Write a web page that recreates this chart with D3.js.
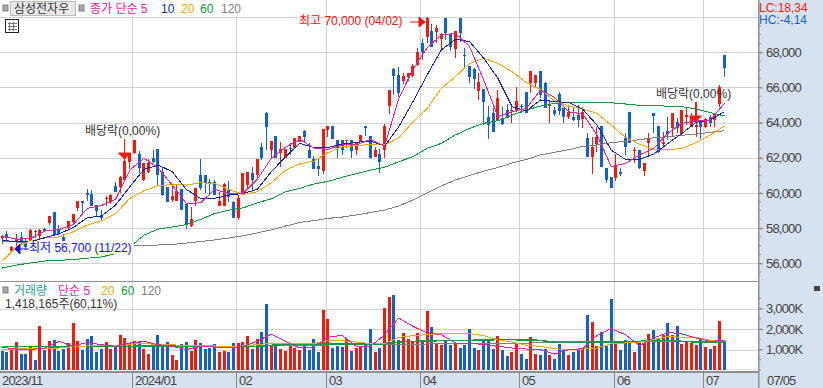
<!DOCTYPE html>
<html lang="ko">
<head>
    <meta charset="UTF-8">
    <title>삼성전자우</title>
    <script src="https://cdn.jsdelivr.net/npm/d3@7"></script>
    <style>
        html, body { margin: 0; padding: 0; background: #fff; overflow: hidden; }
        text { font-family: "Liberation Sans", "Noto Sans CJK KR", sans-serif; font-size: 12px; }
        .axis text { fill: #444; font-family: "Liberation Sans", sans-serif; font-size: 13px; letter-spacing: -.8px; }
    </style>
</head>
<body>
<script>
    // daily candles, 2023/11/21 .. 2024/07/05
    const opens = [57440,57690,56720,57250,57500,57200,57220,57820,57540,57960,58300,58910,57970,57500,58030,58360,59120,59530,60010,59930,59310,58770,59650,59500,60390,60350,60730,61780,62250,62190,60730,61210,61970,62500,61210,60350,59590,59550,60200,59360,58130,59550,61020,61020,60640,60640,59250,59250,60160,59460,58550,59880,60450,61110,61020,62590,64530,62440,
        63240,62290,62010,62540,62540,62920,63520,62440,61910,61530,61250,63580,63810,63010,63010,62950,63010,62440,62920,63810,63240,62060,62210,62440,64960,67050,66710,66370,66580,66650,67280,68510,68890,69210,69170,68760,69970,69040,68170,69970,67850,67220,67030,65820,65910,64340,64570,64150,64240,64720,64680,64660,64940,65720,66230,66230,66940,66230,
        64940,64720,65610,64810,64300,64340,64430,64190,63140,62060,62780,63810,61420,60890,60870,61210,63140,64600,62390,62440,61250,62820,64530,63810,62780,63540,63670,64050,63350,64300,63770,63730,64110,63770,64340,64150,65060,67850];
    const highs = [57600,57820,57000,57690,57790,57400,57970,57880,57970,58010,58680,58910,58200,57650,58410,58790,59530,59550,60200,60160,59310,59020,59820,59930,60640,60960,62000,62290,63010,62400,61720,61910,62440,62500,61400,60350,60450,60450,60200,59360,59210,60310,61910,61020,60770,60730,60060,60540,60690,59550,59880,61110,61210,61490,61930,62860,64590,62970,
        63240,62880,62500,62820,63110,63240,63580,62820,62100,61970,63640,63810,63810,63010,63010,63010,63010,62820,63300,63810,63240,62590,62480,63920,65860,67090,67180,66800,66840,67320,68260,68740,70000,69610,69550,69080,69970,69120,69210,69970,68220,67220,67090,66800,65910,64940,64850,65850,64870,65040,64940,66010,65060,65720,66940,66710,66940,66330,
        65290,64910,65720,64810,64940,64910,65000,64870,63390,63200,63770,63810,61420,60890,62210,61400,63390,64600,62590,62440,61680,63390,64530,63810,63490,64300,64530,64240,64720,64910,64530,65150,64110,64240,64430,64530,66140,67850];
    const lows = [57120,57310,56700,56930,57030,56750,57030,57460,57310,57790,58170,57540,57650,57220,57880,58320,58960,58830,59550,59250,58680,58490,59250,59360,60070,59970,60690,61340,62210,61150,60690,61110,61680,60480,59840,59460,59500,59530,59020,57940,58070,59250,60160,59970,59880,59880,59250,59250,59500,58550,58450,59880,60200,60160,60730,61870,62440,61970,
        62010,61490,61970,62160,62540,62920,62860,61970,61360,60960,61080,63160,63070,62010,62160,62540,62010,62160,62920,63240,62010,62060,61150,62010,64490,65570,65480,66200,66390,66570,67220,67560,68510,68280,68550,68090,68700,68090,67690,68610,67030,66230,65890,65290,63860,63070,63450,64110,63860,64240,63990,64620,64570,64530,65670,65950,65380,64810,
        63990,64380,64430,63990,64190,64110,63730,63680,62060,61080,62350,61500,60580,60300,60700,60960,62160,62820,61680,61360,60980,62160,63390,62290,62540,63010,63200,63390,63300,63860,63730,63200,63070,63680,63770,63770,64910,66570];
    const closes = [57540,57440,56930,57310,57160,56930,57880,57770,57880,57820,58680,57600,57690,57270,58410,58790,59530,59440,59910,59270,58960,58600,59690,59910,60070,60920,61810,62290,63010,61400,61720,61720,61740,61020,59880,59500,59820,60100,59020,58170,58510,60310,60310,60580,60540,59880,59530,60500,59780,58600,59690,61110,61170,60730,61930,61970,63770,62970,
        62010,62520,62500,62480,63110,63240,63160,61970,61360,61360,63640,63810,63070,62570,62440,63010,62400,62820,63300,63690,62010,62440,61780,63810,65860,66670,65700,66670,66800,67240,68040,67990,69970,68320,69360,69020,69080,68320,69210,69080,67790,66575,66480,66330,65150,63860,63450,65380,63900,64280,64720,65230,64910,64570,66940,66710,65570,64810,
        65000,64470,64680,64300,64620,64150,64150,64620,62060,62630,63160,61500,60730,60300,61530,61080,62590,62820,62440,61400,61680,63140,64400,62350,62920,63350,64530,63670,64720,64430,64300,63860,63730,64190,63960,64530,66050,67090];

    const volumes = [927,878,1024,1366,780,780,1106,488,2146,992,1431,1480,943,1024,1317,2293,1398,992,1512,1659,878,1041,1366,1024,1106,1707,1561,1317,1398,1398,1024,780,1236,1707,1236,1366,732,488,1268,1366,943,1463,1317,1024,1073,1268,878,927,878,1317,1317,1366,1659,1024,1512,1854,3219,1187,
        1187,1024,927,1187,1073,992,1187,992,1512,878,2927,2488,1073,1187,1122,1512,927,1073,1122,1236,2000,878,1073,3024,3561,3658,1463,1805,1512,1398,1805,1415,2878,2098,1268,1220,1463,1220,1268,1073,1220,2000,1073,976,1512,1463,1024,1659,976,683,878,1317,780,537,1610,780,732,1024,
        732,537,1268,976,732,878,976,1073,2683,2341,1171,1854,1171,3463,1317,976,1463,1366,878,1317,1317,1756,1951,1561,1707,2293,1707,2146,1268,1366,1317,1220,1561,1122,1024,1171,2390,1418];
    const volumeDirs = "bbrrbbrbrbrbbbrrrbbbbbrrbrrrrbrrbbbbrrbbrrbbbbrrbbrrrbrbbr" +
        "brrrrrbbbbrrbbbrbrrbbrbrrbbrrrrbrbrrbbrbbbbrbbbrbbrrbbrrbb" +
        "rbbbrbbrbrrbbbrbbbrbrrbbrbrbrrrrbrbrrb";

    // moving averages, read every third day
    const maDays = d3.range(0, 154, 3);
    const ma5 = [57540,57370,57410,57840,57920,58200,59120,59290,59630,61300,61970,61430,60450,59400,59440,60200,59970,59970,60770,61970,62600,63050,62560,62480,62730,62730,63050,62670,65380,67030,68260,68980,69080,68320,66420,64340,64620,64810,65850,65440,64620,64490,63300,61500,61680,62160,62540,63390,63960,64110,64150,65100];
    const ma10 = [57310,57220,57220,57460,57670,58030,58600,58680,59310,60350,61340,61590,61210,60200,59690,59690,59880,59970,60200,61210,62060,62820,62590,62590,62780,62880,62950,62670,63770,65190,66710,68130,68740,68610,67660,66520,64910,64660,65290,65190,65150,64750,63860,62440,61910,61910,62210,62820,63390,64020,64150,64620];
    const ma20 = [56130,56930,57270,57440,57500,57790,58170,58410,58830,59690,60120,60410,60480,60450,60580,60540,60200,59910,60070,60580,61300,61650,61820,62290,62630,62690,62770,62730,63140,64050,64810,65950,66610,67370,67660,67370,66900,66270,65890,65230,64940,64770,64530,63860,63160,62780,62480,62440,62540,62860,63300,63810];
    const ma60 = [55730,55900,56020,56130,56170,56210,56290,56360,56550,56930,57600,57940,58070,58200,58490,58830,59020,59150,59440,59670,60070,60260,60510,60660,60890,61100,61300,61460,61780,62060,62540,62820,63300,63670,63960,64110,64430,64720,64940,65100,65150,65150,65150,65130,65060,64980,64960,64940,64910,64770,64570,64380];
    const ma120 = [57230,57210,57180,57150,57130,57100,57070,57040,57010,57000,57010,57040,57070,57150,57240,57330,57440,57560,57730,57900,58120,58320,58430,58550,58630,58750,58890,59030,59260,59600,60000,60400,60740,60990,61250,61450,61700,61900,62160,62310,62460,62650,62730,62860,62940,63030,63140,63200,63280,63350,63450,63540];

    const volMa5 = [1106,1024,992,1073,1398,1154,1350,1236,1154,1317,1398,1236,1154,992,1154,1122,1073,1154,1398,1756,1398,1073,1122,1593,1691,1154,1154,1724,2537,2130,1805,1724,1317,1317,1236,1154,1073,1024,992,780,992,1041,1691,2016,1724,1187,1561,1837,1756,1561,1398,1447];
    const volMa20 = [992,1024,1041,1057,1073,1138,1171,1171,1187,1252,1301,1236,1236,1171,1187,1171,1154,1171,1236,1317,1285,1285,1285,1431,1431,1366,1285,1285,1593,1675,1724,1789,1789,1772,1675,1463,1366,1203,1154,1041,992,1024,1073,1285,1317,1350,1480,1642,1593,1593,1447,1463];
    const volMa60 = [1154,1154,1154,1138,1122,1138,1154,1154,1154,1154,1171,1171,1171,1154,1154,1138,1138,1138,1154,1203,1252,1268,1268,1268,1268,1268,1268,1268,1366,1398,1415,1431,1431,1447,1463,1480,1480,1463,1447,1350,1333,1350,1366,1366,1366,1398,1447,1447,1398,1366,1350,1350];
    const volMa120 = [1122,1122,1122,1122,1122,1122,1122,1122,1122,1122,1122,1122,1122,1122,1122,1122,1122,1154,1170,1187,1203,1203,1203,1220,1220,1236,1236,1236,1252,1252,1268,1285,1285,1301,1301,1301,1301,1301,1350,1366,1366,1382,1382,1382,1382,1382,1382,1382,1382,1382,1382,1382];

    const monthTicks = [27.5, 49.5, 68.5, 88.5, 109.5, 129.5, 148.5];
    const monthLabels = ["2024/01", "02", "03", "04", "05", "06", "07"];
    const priceTicks = [56000, 58000, 60000, 62000, 64000, 66000, 68000];
    const priceGrid = [56000, 58000, 60000, 62000, 64000, 66000, 68000, 70000];
    const volumeTicks = [1000, 2000, 3000];

    const colors = {up: "#ee1c0c", down: "#1560c8", ma5: "#e020b0", ma10: "#1028a8", ma20: "#f0a808", ma60: "#109a40", ma120: "#808080"};
    const dim = {width: 823, height: 388, plotRight: 758, panelBottom: 371};

    const svg = d3.select("body").append("svg")
        .attr("width", dim.width)
        .attr("height", dim.height)
        .style("display", "block");

    const x = d3.scaleLinear().domain([0, 153]).range([2.3, 724.5]);
    const y = d3.scaleLinear().domain([56000, 68000]).range([263.3, 52.3]);
    const yVol = d3.scaleLinear().domain([0, 3000]).range([370, 308.5]);
    const barLeft = i => Math.round(x(i) - 1.6);

    drawFrame();
    drawGrid();
    drawVolume();
    drawCandles();
    drawAverages();
    drawNotes();
    drawLegends();
    drawAxes();

    function drawFrame() {
        svg.append("rect").attr("x", dim.plotRight).attr("y", 0)
            .attr("width", dim.width - dim.plotRight).attr("height", dim.height).attr("fill", "#d6e2f0");
        svg.append("rect").attr("x", 0).attr("y", dim.panelBottom)
            .attr("width", dim.width).attr("height", dim.height - dim.panelBottom).attr("fill", "#d6e2f0");
    }

    function drawGrid() {
        const grid = svg.append("g").attr("stroke", "#d2d2d2").attr("shape-rendering", "crispEdges");
        grid.selectAll(".h").data(priceGrid).join("line")
            .attr("x1", 0).attr("x2", dim.plotRight)
            .attr("y1", d => Math.round(y(d)) + .5).attr("y2", d => Math.round(y(d)) + .5);
        grid.selectAll(".v").data(volumeTicks).join("line")
            .attr("x1", 0).attr("x2", dim.plotRight)
            .attr("y1", d => Math.round(yVol(d)) + .5).attr("y2", d => Math.round(yVol(d)) + .5);
        grid.selectAll(".m").data(monthTicks).join("line")
            .attr("x1", d => Math.round(x(d)) + .5).attr("x2", d => Math.round(x(d)) + .5)
            .attr("y1", 0).attr("y2", dim.panelBottom);
        // panel separators
        svg.selectAll(".sep").data([281, 371]).join("rect")
            .attr("x", 0).attr("y", d => d).attr("width", dim.plotRight).attr("height", d => d === 371 ? 2 : 1)
            .attr("fill", "#909090");
        svg.append("line").attr("x1", 0).attr("x2", dim.plotRight).attr("y1", 369.5).attr("y2", 369.5)
            .attr("stroke", "#e4e4e4");
    }

    function drawVolume() {
        svg.append("g").attr("shape-rendering", "crispEdges")
            .selectAll("rect").data(volumes).join("rect")
            .attr("x", (d, i) => barLeft(i))
            .attr("width", 3)
            .attr("y", d => yVol(d))
            .attr("height", d => yVol(0) - yVol(d))
            .attr("fill", (d, i) => volumeDirs[i] === "r" ? colors.up : colors.down);

        const line = d3.line().x((d, i) => x(maDays[i])).y(d => yVol(d));
        [[volMa120, colors.ma120, 1], [volMa60, colors.ma60, 1.5], [volMa20, colors.ma20, 1], [volMa5, colors.ma5, 1]]
            .forEach(([values, color, w]) => {
                svg.append("path").attr("d", line(values)).attr("fill", "none")
                    .attr("stroke", color).attr("stroke-width", w).attr("shape-rendering", "crispEdges");
            });
    }

    function drawCandles() {
        const candles = svg.append("g").attr("shape-rendering", "crispEdges")
            .selectAll("g").data(opens).join("g")
            .attr("fill", (d, i) => closes[i] >= opens[i] ? colors.up : colors.down);
        candles.append("rect")
            .attr("x", (d, i) => barLeft(i) + 1)
            .attr("width", 1)
            .attr("y", (d, i) => y(highs[i]))
            .attr("height", (d, i) => y(lows[i]) - y(highs[i]));
        candles.append("rect")
            .attr("x", (d, i) => barLeft(i))
            .attr("width", 3)
            .attr("y", (d, i) => y(Math.max(opens[i], closes[i])))
            .attr("height", (d, i) => Math.max(1, Math.abs(y(opens[i]) - y(closes[i]))));
    }

    function drawAverages() {
        const line = d3.line().x((d, i) => x(maDays[i])).y(d => y(d));
        [[ma120, colors.ma120], [ma60, colors.ma60], [ma20, colors.ma20], [ma10, colors.ma10], [ma5, colors.ma5]]
            .forEach(([values, color]) => {
                svg.append("path").attr("d", line(values)).attr("fill", "none")
                    .attr("stroke", color).attr("stroke-width", 1).attr("shape-rendering", "crispEdges");
            });
    }

    function drawNotes() {
        // 배당락 markers
        [[124.5, 139, 85, 135], [695.5, 102, 656, 98]].forEach(([ax, top, tx, ty]) => {
            svg.append("path")
                .attr("d", `M${ax},${top}V${top + 14}M${ax - 6},${top + 14}H${ax + 6}L${ax},${top + 20}Z`)
                .attr("stroke", colors.up).attr("fill", colors.up);
            svg.append("text").attr("x", tx).attr("y", ty).attr("fill", "#333").text("배당락(0,00%)");
        });

        svg.append("text").attr("x", 299).attr("y", 25).attr("fill", "#f01010").text("최고 70,000 (04/02)");
        svg.append("path").attr("d", "M410,22H419V17L425,22L419,27V22").attr("stroke", "#f01010").attr("fill", "#f01010");

        svg.append("rect").attr("x", 28).attr("y", 241).attr("width", 106).attr("height", 13).attr("fill", "#fff");
        svg.append("text").attr("x", 29).attr("y", 252).attr("fill", "#1010e8").text("최저 56,700 (11/22)");
        svg.append("path").attr("d", "M29,249H20V244L15,249L20,254V249").attr("stroke", "#1010e8").attr("fill", "#1010e8");
    }

    function drawLegends() {
        svg.append("rect").attr("x", 0).attr("y", 0).attr("width", 245).attr("height", 16.5).attr("fill", "#fff");
        const squares = [[3, 5], [79, 5], [3, 287]];
        svg.selectAll(".sq").data(squares).join("rect")
            .attr("x", d => d[0]).attr("y", d => d[1]).attr("width", 5).attr("height", 6)
            .attr("fill", "#a8a8a8").attr("stroke", "#808080").attr("stroke-width", 1);

        svg.append("rect").attr("x", 10.5).attr("y", 1.5).attr("width", 65).attr("height", 14)
            .attr("fill", "#e8e8e8").attr("stroke", "#bbb");

        const labels = [
            [14, 13, "삼성전자우", "#333"],
            [90, 13, "종가 단순 5", colors.ma5],
            [161, 13, "10", colors.ma10],
            [181, 13, "20", colors.ma20],
            [200, 13, "60", colors.ma60],
            [221, 13, "120", colors.ma120],
            [14, 295, "거래량", "#309a9a"],
            [58, 295, "단순 5", colors.ma5],
            [101, 295, "20", colors.ma20],
            [121, 295, "60", colors.ma60],
            [141, 295, "120", colors.ma120],
            [5, 308, "1,418,165주(60,11%)", "#333"]
        ];
        svg.selectAll(".lab").data(labels).join("text")
            .attr("x", d => d[0]).attr("y", d => d[1]).attr("fill", d => d[3]).text(d => d[2]);

        // table icon
        const icon = svg.append("g").attr("fill", "none").attr("stroke", "#222").attr("shape-rendering", "crispEdges");
        icon.append("rect").attr("x", 5.5).attr("y", 19.5).attr("width", 13).attr("height", 13);
        icon.append("path").attr("d", "M7.5,23.5H16.5M7.5,26.5H16.5M7.5,29.5H16.5M9.5,22V31M13.5,22V31").attr("stroke", "#777");

        svg.append("text").attr("x", 759).attr("y", 12).attr("fill", "#ee1c0c").text("LC:18,34");
        svg.append("text").attr("x", 759).attr("y", 24).attr("fill", "#1560c8").text("HC:-4,14");

        svg.append("rect").attr("x", 814).attr("y", 286).attr("width", 6).attr("height", 5).attr("fill", "#444");
    }

    function drawAxes() {
        const priceAxis = d3.axisRight(y).tickValues(priceTicks).tickFormat(d3.format(",")).tickSize(5).tickPadding(3);
        const volAxis = d3.axisRight(yVol).tickValues(volumeTicks).tickFormat(d => d3.format(",")(d) + "K").tickSize(5).tickPadding(3);
        [priceAxis, volAxis].forEach(axis => {
            const g = svg.append("g").attr("class", "axis").attr("transform", `translate(${dim.plotRight},0)`).call(axis);
            g.select(".domain").remove();
            g.selectAll("line").attr("stroke", "#808080").attr("stroke-width", 1);
        });

        // minor ticks
        const minorPrice = d3.range(55500, 70000, 500);
        const minorVol = d3.range(0, 4000, 500);
        svg.append("g").attr("stroke", "#808080").selectAll("line")
            .data(minorPrice.map(y).concat(minorVol.map(yVol))).join("line")
            .attr("x1", dim.plotRight).attr("x2", dim.plotRight + 3)
            .attr("y1", d => d).attr("y2", d => d);

        svg.append("rect").attr("x", dim.plotRight).attr("y", 0).attr("width", 1.5).attr("height", dim.height).attr("fill", "#909090");

        // date axis
        const dates = svg.append("g").attr("class", "axis");
        dates.selectAll("line").data(monthTicks).join("line")
            .attr("x1", d => Math.round(x(d)) + .5).attr("x2", d => Math.round(x(d)) + .5)
            .attr("y1", dim.panelBottom).attr("y2", dim.height).attr("stroke", "#888");
        dates.selectAll("text").data(monthTicks).join("text")
            .attr("x", d => Math.round(x(d)) + 3).attr("y", 385).text((d, i) => monthLabels[i]);
        dates.append("text").attr("x", 2).attr("y", 385).text("2023/11");
        dates.append("text").attr("x", 767).attr("y", 385).text("07/05");
    }
</script>
</body>
</html>
